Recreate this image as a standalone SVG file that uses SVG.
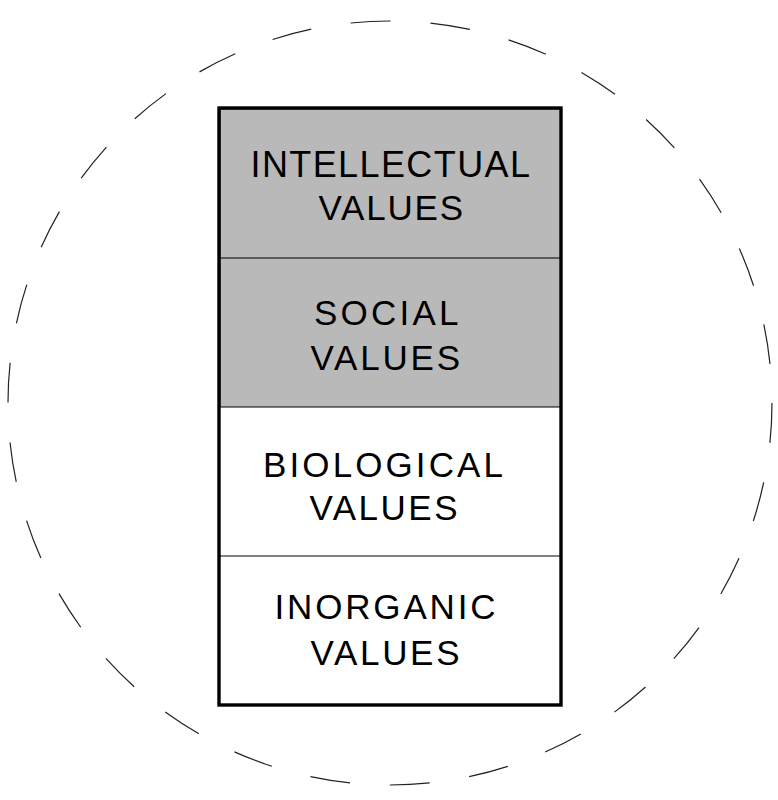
<svg xmlns="http://www.w3.org/2000/svg" width="778" height="800" viewBox="0 0 778 800">
<style>
  .lbl { font-family: "Liberation Sans", Arial, Helvetica, sans-serif; font-size: 35px; fill: #000; }
  .gray { fill: #bab9ba; stroke: #6e6e6e; stroke-width: 2; }
  .white { fill: #ffffff; }
  .div { stroke: #555; stroke-width: 1.5; }
</style>
<rect x="0" y="0" width="778" height="800" fill="#ffffff"/>
<g id="boundary">
  <circle cx="390" cy="403" r="382" fill="none" stroke="#222" stroke-width="1.2" stroke-dasharray="40 40"/>
</g>
<g id="intellectual">
  <rect class="gray" x="220" y="109" width="341" height="149"/>
  <text class="lbl" x="250.5" y="177" textLength="279.5" lengthAdjust="spacing" style="font-size:36px">INTELLECTUAL</text>
  <text class="lbl" x="318.5" y="220" textLength="144.5" lengthAdjust="spacing">VALUES</text>
</g>
<g id="social">
  <rect class="gray" x="220" y="258" width="341" height="149"/>
  <text class="lbl" x="314" y="324.5" textLength="144.5" lengthAdjust="spacing">SOCIAL</text>
  <text class="lbl" x="310.5" y="369.5" textLength="149.5" lengthAdjust="spacing">VALUES</text>
</g>
<g id="biological">
  <rect class="white" x="220" y="407" width="341" height="149"/>
  <text class="lbl" x="263" y="477" textLength="240" lengthAdjust="spacing">BIOLOGICAL</text>
  <text class="lbl" x="309.5" y="520" textLength="148" lengthAdjust="spacing">VALUES</text>
</g>
<g id="inorganic">
  <rect class="white" x="220" y="556" width="341" height="149"/>
  <text class="lbl" x="274.5" y="618.5" textLength="221" lengthAdjust="spacing">INORGANIC</text>
  <text class="lbl" x="310.5" y="665" textLength="149" lengthAdjust="spacing">VALUES</text>
</g>
<g id="connectors">
  <line class="div" x1="220" y1="258" x2="561" y2="258"/>
  <line class="div" x1="220" y1="407" x2="561" y2="407"/>
  <line class="div" x1="220" y1="556" x2="561" y2="556"/>
</g>
<g id="frame">
  <rect x="219" y="108" width="342" height="597" fill="none" stroke="#000" stroke-width="3.4"/>
</g>
</svg>
